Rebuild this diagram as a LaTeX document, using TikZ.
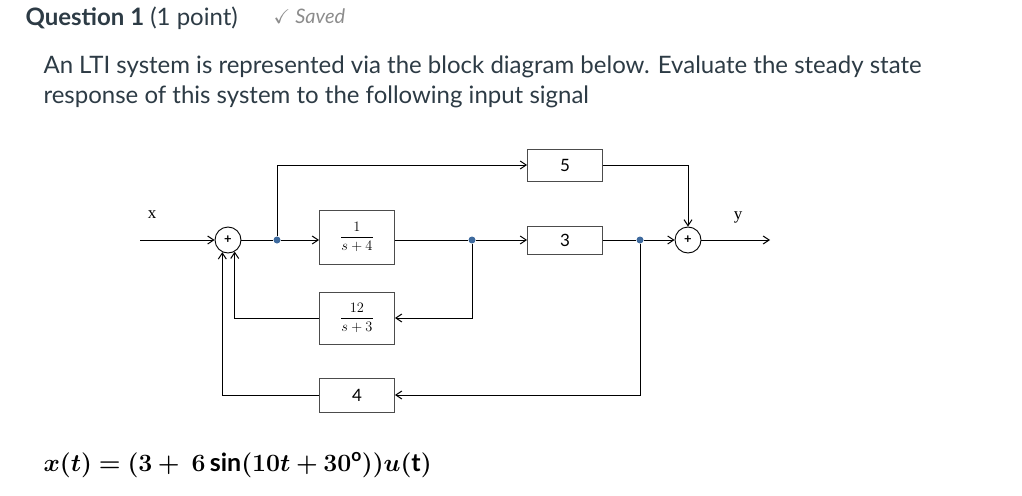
\documentclass[tikz,border=0pt]{standalone}
\usepackage{amsmath,amssymb,bm}
\usepackage{fontspec}
\setmainfont{Lato}
\newfontfamily\serifx{Liberation Serif}
\usetikzlibrary{arrows.meta}
\definecolor{txt}{HTML}{2D3B45}
\definecolor{dotc}{HTML}{3E6A9E}
\begin{document}
\begin{tikzpicture}[x=1pt,y=-1pt,
  blk/.style={draw=black!70,line width=0.9pt,minimum width=75pt,inner sep=0pt,font=\fontsize{17}{18}\selectfont,fill=white},
  sum/.style={circle,draw,line width=0.9pt,minimum size=26pt,inner sep=0pt,font=\fontsize{13}{13}\selectfont\bfseries},
  ln/.style={line width=1pt},
  ar/.style={ln,-{Straight Barb[length=6pt,width=8pt]}},
  dt/.style={circle,fill=dotc,inner sep=0pt,minimum size=7pt}]
\useasboundingbox (0,0) rectangle (1022,495);
\node[anchor=base west,text=txt,font=\fontsize{24}{28}\selectfont] (t) at (22,26) {\textbf{Question 1} (1 point)};
\node[anchor=base west,text=black!45,font=\fontsize{20}{22}\selectfont] (s) at (270,24) {$\checkmark$ \textit{Saved}};
\node[anchor=base west,text=txt,font=\fontsize{24}{28}\selectfont] (p1) at (40,74) {An LTI system is represented via the block diagram below. Evaluate the steady state};
\node[anchor=base west,text=txt,font=\fontsize{24}{28}\selectfont] (p2) at (40,103) {response of this system to the following input signal};
\node[anchor=base west,font=\fontsize{25}{28}\selectfont] (eq) at (40,471) {$\bm{x(t) = (3 +\ 6\sin(10t + 30^{\mathrm{o}}))u(\mathrm{t})}$};

\node[sum] (s1) at (228,240) {+};
\node[sum] (s2) at (688,240) {+};
\node[blk,minimum height=54pt,font=\fontsize{14}{15}\selectfont] (g1) at (357,237) {$\dfrac{1}{s+4}$};
\node[blk,minimum height=28pt] (g3) at (565,240) {3};
\node[blk,minimum height=32pt] (g5) at (565,165) {5};
\node[blk,minimum height=52pt,font=\fontsize{14}{15}\selectfont] (g12) at (357,318) {$\dfrac{12}{s+3}$};
\node[blk,minimum height=34pt] (g4) at (357,395) {4};
\coordinate (xin) at (140,240);
\coordinate (yout) at (770,240);
\node[font=\serifx\fontsize{17}{17}\selectfont] (xl) at (152,215) {x};
\node[font=\serifx\fontsize{17}{17}\selectfont] (yl) at (738,217) {y};
\node[dt] (d1) at (277,240) {};
\node[dt] (d2) at (472,240) {};
\node[dt] (d3) at (640,240) {};
\draw[ar] (xin) -- (s1);
\draw[ln] (s1) -- (d1);
\draw[ar] (d1) -- (g1.west|-d1);
\draw[ln] (g1.east|-d2) -- (d2);
\draw[ar] (d2) -- (g3);
\draw[ln] (g3) -- (d3);
\draw[ar] (d3) -- (s2);
\draw[ar] (s2) -- (yout);
\draw[ar] (d1) |- (g5);
\draw[ar] (g5) -| (s2);
\draw[ar] (d2) |- (g12);
\draw[ar] (g12) -| (s1.-60);
\draw[ar] (d3) |- (g4);
\draw[ar] (g4) -| (s1.-115);
\end{tikzpicture}
\end{document}
